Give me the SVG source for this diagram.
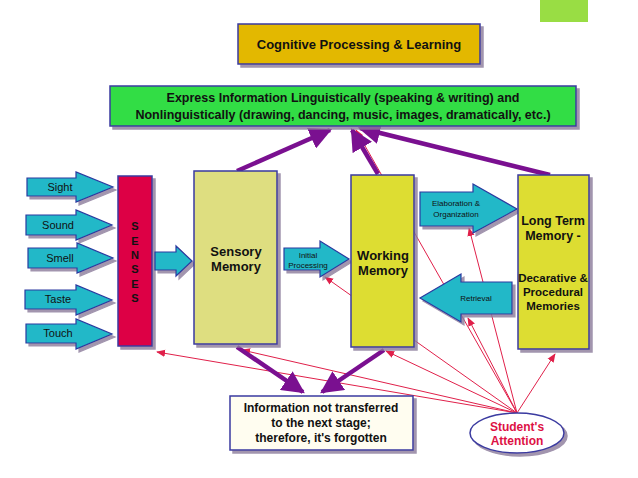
<svg xmlns="http://www.w3.org/2000/svg" width="638" height="478" viewBox="0 0 638 478">
<defs>
<filter id="sh" x="-10%" y="-10%" width="130%" height="130%"><feDropShadow dx="3" dy="3" stdDeviation="0.6" flood-color="#8a7a9a" flood-opacity="0.8"/></filter>
<marker id="ra" viewBox="0 0 10 10" refX="9" refY="5" markerWidth="9" markerHeight="9" markerUnits="userSpaceOnUse" orient="auto"><path d="M0,1 L10,5 L0,9 Z" fill="#e0204a"/></marker>
<marker id="pa" viewBox="0 0 10 10" refX="9" refY="5" markerWidth="5" markerHeight="5" orient="auto"><path d="M0,0 L10,5 L0,10 Z" fill="#7a1090"/></marker>
</defs>
<style>
.box{stroke:#3a3aa0;stroke-width:1.5;filter:url(#sh)}
.arr{fill:#22b8c8;stroke:#2a3aa0;stroke-width:1.2;filter:url(#sh)}
.t{font-family:"Liberation Sans",Arial,sans-serif;text-anchor:middle;fill:#111}
.b{font-weight:bold}
.red{stroke:#e0204a;stroke-width:1;fill:none}
.pur{stroke:#7a1090;stroke-width:4.5;fill:none}
</style>
<rect x="540" y="0" width="48" height="22" fill="#99dd44"/>
<g id="connectors">
<path class="red" d="M517,413 L157,352" marker-end="url(#ra)"/>
<path class="red" d="M517,413 L242,350" marker-end="url(#ra)"/>
<path class="red" d="M517,413 L386,351" marker-end="url(#ra)"/>
<path class="red" d="M517,413 L325,277" marker-end="url(#ra)"/>
<path class="red" d="M517,413 L356,130" marker-end="url(#ra)"/>
<path class="red" d="M517,413 L469,228" marker-end="url(#ra)"/>
<path class="red" d="M517,413 L468,318" marker-end="url(#ra)"/>
<path class="red" d="M517,413 L555,354" marker-end="url(#ra)"/>
<path class="pur" d="M237,171 L330,130" marker-end="url(#pa)"/>
<path class="pur" d="M378,174 L352,130" marker-end="url(#pa)"/>
<path class="pur" d="M550,175 L360,128" marker-end="url(#pa)"/>
<path class="pur" d="M237,347 L303,392" marker-end="url(#pa)"/>
<path class="pur" d="M384,350 L322,392" marker-end="url(#pa)"/>
</g>
<g id="title"><rect class="box" x="238" y="24" width="242" height="40" fill="#e3b800"/><text class="t b" x="359" y="49" font-size="13">Cognitive Processing &amp; Learning</text></g>
<g id="express"><rect class="box" x="110" y="86" width="466" height="40" fill="#33dd44"/><text class="t b" x="343" y="102" font-size="12.5">Express Information Linguistically (speaking &amp; writing) and</text><text class="t b" x="343" y="119" font-size="12.5">Nonlinguistically (drawing, dancing, music, images, dramatically, etc.)</text></g>
<g id="sight"><path class="arr" d="M27,178 H76 V172 L113,187 L76,202 V196 H27 Z"/><text class="t" x="60" y="191" font-size="11">Sight</text></g>
<g id="sound"><path class="arr" d="M26,215 H76 V210 L112,225 L76,240 V235 H26 Z"/><text class="t" x="58" y="229" font-size="11">Sound</text></g>
<g id="smell"><path class="arr" d="M28,248 H77 V243 L113,258 L77,273 V268 H28 Z"/><text class="t" x="60" y="262" font-size="11">Smell</text></g>
<g id="taste"><path class="arr" d="M25,290 H76 V285 L112,300 L76,315 V309 H25 Z"/><text class="t" x="58" y="303" font-size="11">Taste</text></g>
<g id="touch"><path class="arr" d="M26,324 H76 V319 L112,334 L76,349 V343 H26 Z"/><text class="t" x="58" y="337" font-size="11">Touch</text></g>
<g id="senses"><rect class="box" x="118" y="176" width="34" height="170" fill="#dd0044"/>
<g class="t b" font-size="11" fill="#111"><text x="135" y="230">S</text><text x="135" y="245">E</text><text x="135" y="259">N</text><text x="135" y="273">S</text><text x="135" y="288">E</text><text x="135" y="302">S</text></g></g>
<g id="s2s"><path class="arr" d="M155,252 H176 V246 L192,261 L176,276 V270 H155 Z"/></g>
<g id="sensory"><rect class="box" x="194" y="171" width="83" height="173" fill="#dede80"/><text class="t b" x="236" y="256" font-size="13">Sensory</text><text class="t b" x="236" y="271" font-size="13">Memory</text></g>
<g id="initial"><path class="arr" d="M284,248 H320 V241 L349,259 L320,277 V270 H284 Z"/><text class="t" x="308" y="258" font-size="8">Initial</text><text class="t" x="308" y="268" font-size="8">Processing</text></g>
<g id="working"><rect class="box" x="351" y="175" width="63" height="172" fill="#dddd33"/><text class="t b" x="383" y="260" font-size="13">Working</text><text class="t b" x="383" y="275" font-size="13">Memory</text></g>
<g id="elab"><path class="arr" d="M420,192 H473 V184 L517,209 L473,233 V226 H420 Z"/><text class="t" x="456" y="206" font-size="8">Elaboration &amp;</text><text class="t" x="456" y="217" font-size="8">Organization</text></g>
<g id="retrieval"><path class="arr" d="M512,282 H461 V274 L420,298 L461,322 V314 H512 Z"/><text class="t" x="476" y="301" font-size="8">Retrieval</text></g>
<g id="ltm"><rect class="box" x="518" y="175" width="71" height="174" fill="#dddd33"/><text class="t b" x="553" y="225" font-size="12.5">Long Term</text><text class="t b" x="553" y="240" font-size="12.5">Memory -</text><text class="t b" x="553" y="282" font-size="11.5">Decarative &amp;</text><text class="t b" x="553" y="296" font-size="11.5">Procedural</text><text class="t b" x="553" y="310" font-size="11.5">Memories</text></g>
<g id="forgot"><rect class="box" x="230" y="396" width="183" height="54" fill="#fffdf0"/><text class="t b" x="321" y="412" font-size="12">Information not transferred</text><text class="t b" x="321" y="427" font-size="12">to the next stage;</text><text class="t b" x="321" y="442" font-size="12">therefore, it's forgotten</text></g>
<g id="attention"><ellipse cx="517" cy="433" rx="47" ry="20" fill="#fff" stroke="#3a3aa0" stroke-width="1.5" filter="url(#sh)"/><text class="t b" x="517" y="431" font-size="12" fill="#dd1144" style="fill:#dd1144">Student's</text><text class="t b" x="517" y="445" font-size="12" style="fill:#dd1144">Attention</text></g>
</svg>
